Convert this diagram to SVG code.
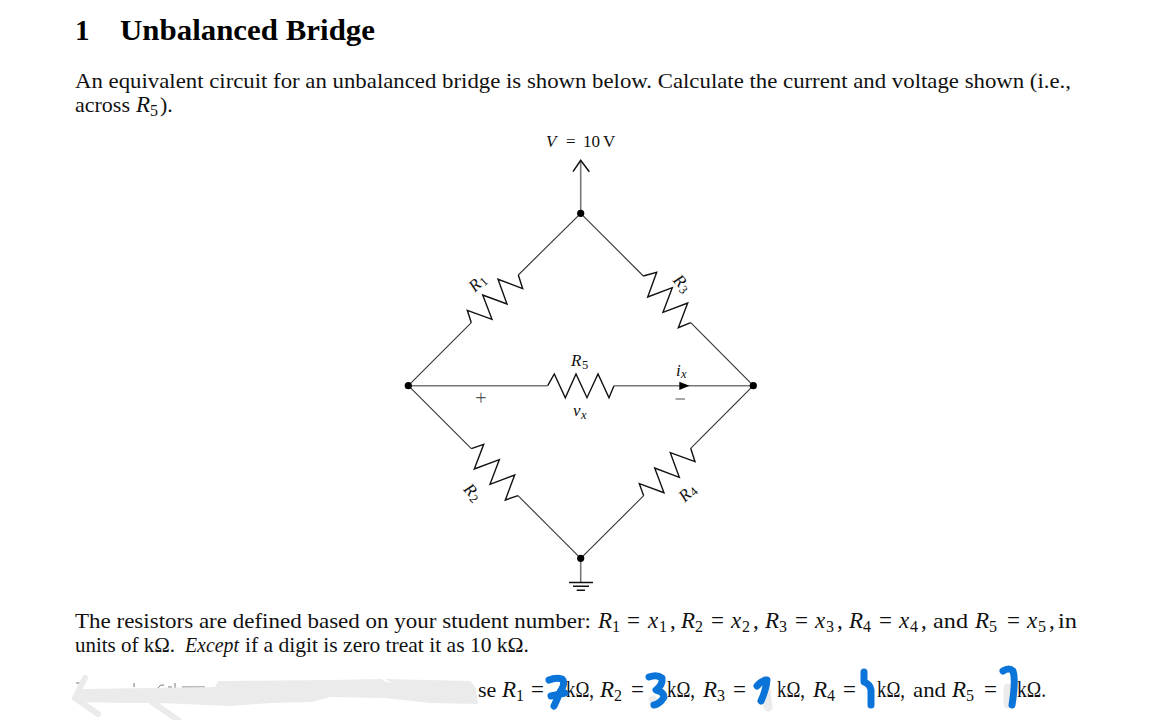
<svg xmlns="http://www.w3.org/2000/svg" width="1171" height="720" viewBox="0 0 1171 720">
<style>
text{font-family:"Liberation Serif","Times New Roman",serif;fill:#111}
.b{font-size:22px}
.h{font-size:29px;font-weight:bold;fill:#000}
.m{font-size:23px;font-style:italic}
.n{font-size:23px}
.s{font-size:16px}
.c{font-size:17px}
.d{font-size:17px;font-style:italic}
.cs{font-size:12.5px}
.cx{font-size:12.5px;font-style:italic}
.w{fill:none;stroke:#333;stroke-width:1.1}
.g{fill:none;stroke:#777;stroke-width:1.6}
.z{fill:none;stroke:#111;stroke-width:1.4;stroke-linejoin:miter}
.gnd{fill:none;stroke:#111;stroke-width:1.5}
.dot{fill:#000}
.red{fill:none;stroke:#ebebeb;stroke-linecap:round;stroke-linejoin:round}
.frag{fill:none;stroke:#777;stroke-width:1}
.ink{fill:none;stroke:#0b74d8;stroke-width:7;stroke-linecap:round;stroke-linejoin:round}
</style>
<rect width="1171" height="720" fill="#fff"/>
<g id="heading">
<text class="h" x="75" y="40">1</text>
<text class="h" x="120" y="40" textLength="255" lengthAdjust="spacingAndGlyphs">Unbalanced Bridge</text>
</g>
<g id="intro">
<text class="b" x="75" y="88" textLength="996" lengthAdjust="spacingAndGlyphs">An equivalent circuit for an unbalanced bridge is shown below. Calculate the current and voltage shown (i.e.,</text>
<text class="b" x="75" y="112" textLength="55" lengthAdjust="spacingAndGlyphs">across</text>
<text class="m" x="136" y="112">R</text><text class="s" x="150" y="116">5</text>
<text class="b" x="160" y="112">).</text>
</g>
<g id="connectors">
<path class="g" d="M580.7 213.3V161"/>
<path class="gnd" d="M573 171.7L580.7 160.3L589.3 171.7"/>
<path class="w" d="M580.7 213.3L518.3 275"/>
<path class="z" d="M518.3 275L522.7 288.7L498 279.3L507 304L482.7 295L492 319.3L467.3 310.3L471.3 322.7"/>
<path class="w" d="M471.3 322.7L408.3 385.7"/>
<path class="w" d="M580.7 213.3L643.3 276"/>
<path class="z" d="M643.3 276L656.7 272.3L647.7 297L672.3 287.7L663 312.3L687.7 303L678.3 327.7L690.7 322.7"/>
<path class="w" d="M690.7 322.7L753.3 385.7"/>
<path class="w" d="M408.3 385.7L471.3 448.7"/>
<path class="z" d="M471.3 448.7L483.7 444.3L474.3 469L499.3 459.7L490 484.3L514.7 475L505.3 500L518 495.7"/>
<path class="w" d="M518 495.7L580.7 558.3"/>
<path class="w" d="M753.3 385.7L690.7 448.3"/>
<path class="z" d="M690.7 448.3L695 461.7L670.3 452.7L679.3 477.3L654.7 468L664 492.7L639.3 483.7L643.7 495.7"/>
<path class="w" d="M643.7 495.7L580.7 558.3"/>
<path class="g" d="M408.3 385.7H547.7"/>
<path class="z" d="M547.7 385.7L554.3 374L565.3 397.7L576 374L587 397.7L598 374L609 397.7L614 385.7"/>
<path class="g" d="M614 385.7H753.3"/>
<polygon class="dot" points="679.3,381.7 689.5,385.7 679.3,390"/>
<path class="g" d="M580.7 558.3V582"/>
<path class="gnd" d="M569 582.5H593M573 586.3H589M576.7 590.3H585"/>
</g>
<g id="node-top"><circle class="dot" cx="580.7" cy="213.3" r="3.6"/><text class="d" x="546" y="147">V</text><text class="c" x="566" y="147" text-anchor="start">=</text><text class="c" x="583" y="147">10</text><text class="c" x="603" y="147">V</text></g>
<g id="node-left"><circle class="dot" cx="408.3" cy="385.7" r="3.6"/></g>
<g id="node-right"><circle class="dot" cx="753.3" cy="385.7" r="3.6"/></g>
<g id="node-bottom"><circle class="dot" cx="580.7" cy="558.3" r="3.6"/></g>
<g id="r1-label" transform="translate(478 283) rotate(-43)"><text class="d" x="-9" y="5">R</text><text class="cs" x="2" y="7">1</text></g>
<g id="r3-label" transform="translate(682 284) rotate(47)"><text class="d" x="-9" y="5">R</text><text class="cs" x="2" y="7">3</text></g>
<g id="r2-label" transform="translate(472.5 493) rotate(47)"><text class="d" x="-9" y="5">R</text><text class="cs" x="2" y="7">2</text></g>
<g id="r4-label" transform="translate(688 493) rotate(-43)"><text class="d" x="-9" y="5">R</text><text class="cs" x="2" y="7">4</text></g>
<g id="r5-label"><text class="d" x="571" y="366">R</text><text class="cs" x="582" y="368.5">5</text></g>
<g id="vx-label"><text class="d" x="573" y="416">v</text><text class="cx" x="581" y="418.5">x</text></g>
<g id="ix-label"><text class="d" x="676" y="376">i</text><text class="cx" x="681" y="378">x</text></g>
<g id="plus"><text class="c" x="481" y="405" text-anchor="middle" style="font-size:20px;fill:#555">+</text></g>
<g id="minus"><path d="M675.5 399H685" stroke="#777" stroke-width="1.3"/></g>
<g id="para">
<text class="b" x="75" y="628" textLength="516" lengthAdjust="spacingAndGlyphs">The resistors are defined based on your student number:</text>
<text class="m" x="598" y="628">R</text><text class="s" x="612" y="632">1</text><text class="n" x="627" y="628">=</text>
<text class="m" x="648" y="628">x</text><text class="s" x="659" y="632">1</text><text class="n" x="670" y="628">,</text>
<text class="m" x="681" y="628">R</text><text class="s" x="695" y="632">2</text><text class="n" x="711" y="628">=</text>
<text class="m" x="731" y="628">x</text><text class="s" x="742" y="632">2</text><text class="n" x="753" y="628">,</text>
<text class="m" x="765" y="628">R</text><text class="s" x="779" y="632">3</text><text class="n" x="795" y="628">=</text>
<text class="m" x="815" y="628">x</text><text class="s" x="826" y="632">3</text><text class="n" x="837" y="628">,</text>
<text class="m" x="849" y="628">R</text><text class="s" x="863" y="632">4</text><text class="n" x="879" y="628">=</text>
<text class="m" x="899" y="628">x</text><text class="s" x="910" y="632">4</text><text class="n" x="921" y="628">,</text>
<text class="b" x="933" y="628" textLength="35" lengthAdjust="spacingAndGlyphs">and</text>
<text class="m" x="975" y="628">R</text><text class="s" x="989" y="632">5</text><text class="n" x="1007" y="628">=</text>
<text class="m" x="1027" y="628">x</text><text class="s" x="1038" y="632">5</text><text class="n" x="1049" y="628">,</text>
<text class="b" x="1058" y="628" textLength="19" lengthAdjust="spacingAndGlyphs">in</text>
<text class="b" x="75" y="652" textLength="100" lengthAdjust="spacingAndGlyphs">units of kΩ.</text>
<text class="m" x="185" y="652" textLength="54" lengthAdjust="spacingAndGlyphs" style="font-size:22px">Except</text>
<text class="b" x="245" y="652" textLength="284" lengthAdjust="spacingAndGlyphs">if a digit is zero treat it as 10 kΩ.</text>
</g>
<g id="redactions">
<path class="frag" d="M76 683H84M134 683V687M158 688Q160 684 164 685M168 687H172M175 683V688M182 687H205M388 683.5H397"/>
<path fill="#ebebeb" d="M84 689L215 687L218 681L330 680L382 679L386 682L392 683L385 679L470 681L476 688L478 704L430 703L385 698L330 697L312 702L270 703L230 706L160 703L125 703L75 702L76 690Z"/>
<path class="red" stroke-width="6" d="M85 678L75 698L98 714M152 702L178 720"/>
<path class="red" stroke-width="9" d="M765 680L767 700L768 707M1008 688L1008 704M653 700L654 704"/>
</g>
<g id="values">
<text class="b" x="478" y="697">se</text>
<text class="m" x="502" y="697">R</text><text class="s" x="516" y="701">1</text><text class="n" x="531" y="697">=</text>
<text class="n" x="566" y="697" textLength="28" lengthAdjust="spacingAndGlyphs">kΩ,</text>
<text class="m" x="600" y="697">R</text><text class="s" x="614" y="701">2</text><text class="n" x="631" y="697">=</text>
<text class="n" x="667" y="697" textLength="28" lengthAdjust="spacingAndGlyphs">kΩ,</text>
<text class="m" x="703" y="697">R</text><text class="s" x="717" y="701">3</text><text class="n" x="733" y="697">=</text>
<text class="n" x="777" y="697" textLength="28" lengthAdjust="spacingAndGlyphs">kΩ,</text>
<text class="m" x="813" y="697">R</text><text class="s" x="827" y="701">4</text><text class="n" x="843" y="697">=</text>
<text class="n" x="877" y="697" textLength="28" lengthAdjust="spacingAndGlyphs">kΩ,</text>
<text class="b" x="913" y="697" textLength="33" lengthAdjust="spacingAndGlyphs">and</text>
<text class="m" x="952" y="697">R</text><text class="s" x="966" y="701">5</text><text class="n" x="984" y="697">=</text>
<text class="n" x="1017" y="697" textLength="29" lengthAdjust="spacingAndGlyphs">kΩ.</text>
</g>
<g id="ink">
<path class="ink" d="M549 680Q556 677 562 679Q566 683 560 692Q557 700 554 706M551 696L565 693"/>
<path class="ink" d="M649 677Q657 674 662 678Q663 685 656 690Q664 692 664 697Q660 704 654 705"/>
<path class="ink" d="M757 686Q762 680 767 680Q766 690 761 701"/>
<path class="ink" d="M864 672L864 682Q870 684 871 690L871 705"/>
<path class="ink" d="M1003 671Q1009 667 1013 671Q1016 680 1012 705"/>
</g>
</svg>
